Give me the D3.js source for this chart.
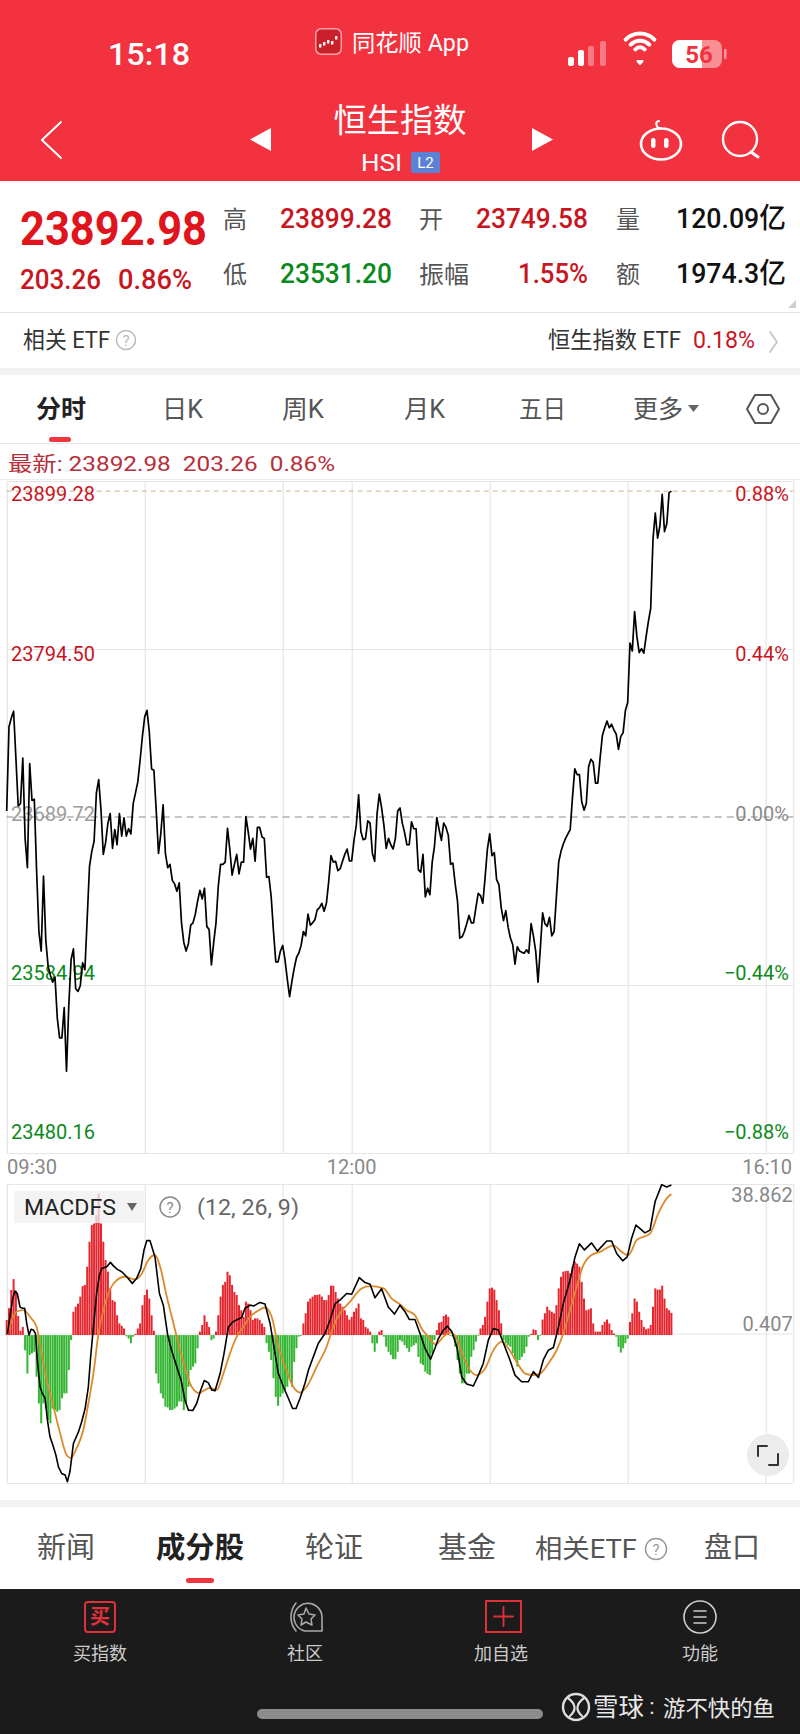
<!DOCTYPE html>
<html><head><meta charset="utf-8">
<script src="https://cdn.jsdelivr.net/npm/d3@7/dist/d3.min.js"></script>
<style>html,body{margin:0;padding:0;background:#fff}svg{display:block}
text{font-family:Roboto,"Noto Sans CJK SC",sans-serif}</style></head><body>
<svg id="c" width="800" height="1734"></svg>
<script>
// ---------- data ----------
const prevClose = 23689.72;
const latest = 23892.98;
const priceTicks = [23899.28, 23794.50, 23689.72, 23584.94, 23480.16];
const pctTicks = ["0.88%", "0.44%", "0.00%", "−0.44%", "−0.88%"];
const gridMinutes = [60, 120, 150, 210, 270, 330];
const timeLabels = ["09:30", "12:00", "16:10"];
const timeLabelMinutes = [0, 150, 342];
// one value per traded minute
const prices = [23693.5,23746,23751.4,23755.7,23726.5,23696.7,23698.1,23726.5,23676.4,23658.1,23723,23700,23700.8,23656.2,23618.3,23606.1,23652.9,23612.9,23596.7,23591,23586.7,23589.9,23564.2,23552,23552,23570.9,23531.2,23572.3,23600.7,23607.5,23582.6,23581,23584.5,23598.8,23594.5,23626.4,23658.9,23668.3,23674.6,23704.8,23713,23694,23666.4,23673.7,23685.9,23691.9,23670.2,23681.9,23672.4,23691.9,23677.8,23689.2,23677.8,23682.4,23679.2,23698.1,23704.8,23711.6,23725.1,23740,23752.2,23756.2,23742.7,23719.7,23718.9,23694,23667,23679.2,23697.3,23667,23658.1,23660.2,23650.2,23648,23643.4,23648.6,23623.7,23611.5,23606.1,23610.7,23622.3,23623.7,23629.1,23637.2,23644,23638.6,23645.3,23621.5,23619.6,23597.5,23611.5,23623.7,23646.7,23660.2,23660.2,23661.6,23682.7,23669.7,23653.5,23660.2,23666.4,23654.3,23661.6,23661.6,23690,23680.5,23669.7,23676.4,23662.1,23683.2,23683.2,23677.3,23676.4,23652.1,23652.6,23639.9,23618.3,23599.4,23599.4,23606.1,23609.6,23600.7,23588.5,23577.7,23587.2,23595.3,23602.1,23604.8,23609.6,23618.3,23615.6,23629.1,23622.3,23623.7,23625.6,23631.8,23633.2,23635.9,23631,23635.9,23649.4,23665.6,23661.6,23662.1,23656.2,23657.5,23662.1,23666.4,23669.7,23662.4,23662.4,23675.1,23684.6,23703.5,23680.5,23675.6,23676.2,23687.3,23685.9,23667,23662.1,23691.3,23704,23695.4,23684.6,23670.2,23676.4,23672.4,23669.7,23676.4,23693.5,
23695.4,23685.9,23680,23672.4,23672.4,23686.7,23682.4,23682.4,23656.7,23655.3,23666.4,23639.9,23645.3,23641.3,23661.6,23671.6,23689.4,23681.9,23675.1,23685.9,23683.2,23678.3,23660.2,23661,23648,23637.2,23614.2,23615,23618.3,23623.2,23628.3,23623.7,23623.7,23633.2,23642.1,23640.7,23635.9,23652.1,23669.7,23679.2,23665.6,23667.5,23650.7,23647.5,23633.2,23625.1,23631.3,23621,23614.2,23610.2,23598,23608.8,23606.1,23605.3,23604.8,23606.9,23604.8,23623.2,23615.6,23606.1,23586.7,23607.5,23629.9,23623.2,23621.5,23627.2,23615.6,23618.3,23639.9,23661.6,23668.3,23672.9,23676.4,23679.2,23681.9,23702.1,23719.7,23716.2,23716.2,23699.4,23694,23698.1,23721.1,23725.7,23723.8,23710.8,23710.8,23726.5,23740.6,23745.4,23749.5,23745.4,23747.6,23744.1,23741.4,23731.9,23740,23742.2,23756.2,23761.1,23798.2,23793.3,23817.9,23802.2,23792.2,23794.7,23791.9,23802.2,23811.7,23819.8,23863.1,23879.3,23863.6,23871.2,23891,23867.7,23872.6,23892,23892.98];
const macdBars = [3.9,6.9,11.6,14.4,11.4,4.9,1.1,2.1,-3.9,-9.9,-5.1,-4.7,-4.3,-10.7,-17.6,-22.7,-17.6,-18.9,-21.9,-22.7,-18.9,-19.3,-19.7,-19.3,-16.3,-15,-15,-9,-1.3,6,7.3,8.1,9.9,12.6,12.9,17.6,24,28.3,28.7,30.9,36.4,28.7,24,19.3,16.3,12,9,8.6,5.1,3,2.4,1.7,-0.3,-0.9,-2.1,-0.4,0.3,1.7,3,7.7,10.3,11.7,9.4,5.1,1.1,-9.9,-12.4,-15,-16.3,-18.4,-18.6,-19.3,-19.3,-18.9,-18.4,-17.1,-17.1,-19.3,-17.6,-13.3,-9,-8.1,-7.3,-3.4,0.9,2.6,5.1,3.4,2.1,-1.3,-0.9,0.9,5.1,9.9,12.9,13.7,16.3,15.4,12.9,11.1,10.3,7.7,6.4,4.7,8.6,8.1,6.4,3.9,4.3,4.3,3.9,3,2.1,-2.1,-4.3,-6.4,-11.1,-15.9,-18.2,-15.9,-15,-14.1,-13.3,-11.1,-13.3,-6.9,-3.4,-0.4,-0.2,3,5.6,8.6,9.4,9.9,10.3,10.3,10.5,9.9,9,9,10.3,12.7,12.7,11.1,9.4,8.1,7.3,6.4,5.1,4,4.7,6,6.9,8.1,4.3,3.9,2.1,1.7,0.9,-2.1,-4.3,-2.1,0.9,1.3,-0.4,-3,-4.3,-5.1,-6.2,-6.2,-4.3,
-1.3,-1.7,-2.6,-3.4,-4.3,-3,-2.6,-2.1,-5.6,-7.3,-7.7,-9.4,-10,-10.3,-4.7,-1.3,1.3,3.2,3.4,4.9,5.3,4.7,-0.2,-0.4,-3,-6.4,-9.9,-12.4,-12.4,-9.9,-9.9,-5.6,-3.9,-1.7,-0.2,1.7,2.6,4.7,8.6,12,12.2,11.7,9,6.4,3,-1.3,-2.1,-2.6,-3,-4.7,-6.4,-8.1,-6.4,-5.6,-4.7,-3,-0.4,0.3,1.5,1.3,-1.3,-0.2,4,5.6,7.3,6.4,6,5.6,7.7,12,15,16.3,16.5,16.5,15.9,17.6,18.9,18.4,17.6,13.7,9.4,6.4,6.6,6.9,3,0.9,0.9,0.9,2.6,3.4,4,3,1.3,0.4,-0.4,-3,-4.5,-3.4,-2.1,-0.9,3.4,5.6,9.4,8.6,6,3.9,2.1,1.5,1.7,2.6,7.3,12,11.7,11.7,12.7,9.4,6.9,6.4,5.7];
const difMinutes = [0.3,1.4,2.6,3.6,4.6,5.8,6.8,7.8,8.7,9.7,10.6,11.6,12.5,13.3,14.5,15.5,16.7,17.7,18.8,20.3,21.4,22.5,23.9,25.4,26.4,27.5,29,31.2,32.6,34.1,35.5,36.5,37.7,39.1,40.3,41.3,43.5,45.1,46.4,48.1,50,52.2,54.6,56.5,58.3,59.7,60.9,62.3,64.5,66.4,68.1,70,71.7,73.9,75.8,77.5,79,80.9,82.6,84.1,85.9,87.7,89.1,90.6,92.8,94.5,96.4,98.3,100.3,102.2,103.6,105.8,107.5,110.1,112.3,114.5,116.2,118.1,120.3,122.5,124.3,125.8,127.5,129.7,131.2,133.3,135.5,138.4,140.6,142.8,144.9,147.8,150,153.3,155.8,158,160.1,163,165.9,168.6,171,173.2,175.1,177.5,179.7,181.9,184.3,186.2,187.7,189.9,191.6,193.5,195.7,197.8,200,202.9,205.1,207.2,209.4,211.6,213.8,216,218.8,221,223.9,226.8,229,231.2,233.3,235.5,237.7,239.9,242,244.9,247.1,249,251.2,254.3,256.8,260.9,263,265.2,267.8,269.8,271.7,273.6,277.5,279.7,281.9,284.8,286.9,289];
const difValues = [0.3,4.7,9.4,11.3,10.7,7.2,6.9,6.9,3,0,1.5,1.3,0.4,-6.4,-13.3,-15,-16.3,-21.9,-26.1,-28.7,-30.9,-33.9,-35.6,-36,-37.7,-35.1,-27.9,-24.9,-22.3,-18.9,-13.3,-5.6,2.1,10.7,15.4,17.1,17.6,18.7,17.8,16.9,16.3,15,13.3,14.6,17.1,21.9,24.3,24.3,20,10.7,7.7,0,-3.9,-8.1,-11.6,-16.7,-19.3,-19.4,-17.6,-14.6,-11.7,-12.3,-14.1,-14.3,-9.9,-4.7,2.1,3.4,4,4.5,6.9,7.7,7.5,8.4,8,3,-3,-9.9,-13.3,-16.3,-18.9,-18.9,-16.3,-12.4,-9,-5.6,-2.1,0.4,3.9,8.1,9,10.7,10.5,14.8,13.5,13.1,9.6,11.9,7.2,5.4,7.7,6,4,4,0.4,-3.4,-6.2,-3.4,-0.9,1.3,2.3,0.9,-3,-10.7,-12.6,-13.1,-10.3,-7.3,-1.3,1.7,1.3,-2.1,-6.4,-10.3,-12,-12,-9.4,-10.9,-6.4,-3.9,-3.2,2.1,8.1,14.1,20.1,23.5,21.9,23.7,21.6,24.2,24.2,21,19.1,20.1,24.9,28.3,26.3,27,34.3,38.7,38.1,38.6];
const deaMinutes = [0.3,2.2,4.3,7.5,10.1,13,15.2,17.4,20.3,23.2,26.1,27.8,30.4,33.3,35.5,37.7,39.9,42,44.2,47.1,51.4,55.8,58.7,61.6,64.5,66.7,69.6,72.5,75.4,78.3,80.4,83.6,86.2,88.4,91.3,94.2,97.1,100,102.9,105.8,109.4,112.3,115.2,118.1,121,124.6,127.5,130.4,134.8,139.1,142,144.9,149.3,154.3,158,163.8,167.4,171,173.9,177.5,180.4,183.3,186.5,189.9,192.8,195.7,198.6,201.4,204.3,208,211.6,215.2,218.1,221.7,225.4,229,231.9,235.5,239.1,242,244.9,247.8,250.7,254.3,257.9,263.8,267.4,270.3,273.9,279.7,283.3,286.9,289];
const deaValues = [0.4,3.8,6,6.4,4.7,2.1,-4.7,-11.6,-18.4,-25.2,-30.9,-31.6,-29.1,-24.4,-17.6,-9.9,0.4,6.4,10.7,13.7,15,14.3,15.8,19.3,20.6,17.6,9.9,3,-3.9,-9.9,-13.3,-14.9,-14.1,-13.6,-14.1,-9.9,-4.7,-0.4,2.1,4.7,6.3,7.1,4.7,-3,-8.1,-13.3,-14.8,-13.3,-8.1,-3,2.1,5.6,8.6,12,12.6,12,9.4,7.9,6.4,5.1,1.7,-0.4,-2.4,-0.4,0.7,-0.9,-5.6,-9,-10.3,-8.6,-3.9,-1.7,-3.4,-6.9,-9.9,-10.3,-9.9,-7.3,-3.9,0.4,6.4,12.4,18,20.6,21.4,23.1,21.4,20.6,24.4,26.1,31.3,35.1,36.3];
const macdTop = 38.862, macdMid = 0.407;
const macdBottom = 2*macdMid - macdTop;

// ---------- colours ----------
const RED="#f2333f", UP="#c8161f", DOWN="#0b8a1c", GRID="#e5e5e5", BAND="#f2f2f2";

const svg = d3.select("#c");
const T=(s,x,y,o={})=>svg.append("text").text(s).attr("x",x).attr("y",y)
  .attr("font-size",o.fs||20).attr("fill",o.c||"#222").attr("font-weight",o.w||400)
  .attr("text-anchor",o.a||"start").attr("dominant-baseline",o.b||"auto")
  .attr("lengthAdjust","spacingAndGlyphs").call(t=>{if(o.l)t.attr("textLength",o.l);});
const rect=(x,y,w,h,c,r=0)=>svg.append("rect").attr("x",x).attr("y",y).attr("width",w).attr("height",h).attr("fill",c).attr("rx",r);
const path=(d,o={})=>svg.append("path").attr("d",d).attr("fill",o.f||"none").attr("stroke",o.s||"none").attr("stroke-width",o.w||1.5).attr("stroke-linecap","round").attr("stroke-linejoin","round").attr("opacity",o.o==null?1:o.o);
const circ=(x,y,r,o={})=>svg.append("circle").attr("cx",x).attr("cy",y).attr("r",r).attr("fill",o.f||"none").attr("stroke",o.s||"none").attr("stroke-width",o.w||1.5);

// ---------- header ----------
rect(0,0,800,181,RED);
T("15:18",108,65,{fs:32,c:"#fff",w:500,l:82});
rect(315,28,27,27,"#f7a0a6",6); rect(316.5,29.5,24,24,"#c9202a",5);
[[319,44],[323,42],[327,40],[331,41],[335,36]].forEach(p=>rect(p[0],p[1],2.4,3.4,"#fff",.5));
T("同花顺 App",352,51,{fs:23,c:"#fff",l:117});
[[568,57,6,9,1],[578,50,6,16,1],[588,46,6,20,.35],[600,41,6,25,.35]].forEach(b=>rect(b[0],b[1],b[2],b[3],"#fff",2).attr("opacity",b[4]));
const wx=640,wy=64;
[[20,4],[13,4],[6.5,4]].forEach((a,i)=>{const r=a[0]; path(`M${wx-r*.72} ${wy-10-r*.72}A${r} ${r} 0 0 1 ${wx+r*.72} ${wy-10-r*.72}`,{s:"#fff",w:a[1]});});
path(`M${wx-2.5} ${wy-3}L${wx} ${wy}L${wx+2.5} ${wy-3}Z`,{f:"#fff",s:"#fff",w:2});
rect(672,40,50,28,"#fff",8).attr("opacity",.45);
svg.append("clipPath").attr("id","bat").append("rect").attr("x",672).attr("y",40).attr("width",30).attr("height",28);
rect(672,40,50,28,"#fff",8).attr("clip-path","url(#bat)");
rect(724,49,2.5,10,"#fff",1).attr("opacity",.5);
T("56",699,63,{fs:24,c:RED,w:700,a:"middle"});
T("恒生指数",400,132,{fs:33,c:"#fff",a:"middle",l:133});
path("M61 122L42 140L61 158",{s:"#fff",w:2});
path("M271 128L250 139.5L271 151Z",{f:"#fff"});
path("M532 128L553 139.5L532 151Z",{f:"#fff"});
T("HSI",361,171,{fs:24,c:"#fff",l:41});
rect(411,152,29,21,"#5b82d6",2);
T("L2",425.5,168,{fs:15,c:"#fff",a:"middle"});
svg.append("ellipse").attr("cx",661).attr("cy",144).attr("rx",20).attr("ry",15.5).attr("fill","none").attr("stroke","#fff").attr("stroke-width",2.6);
path("M658 128Q654 122 659 121M658 128L661 128",{s:"#fff",w:2.2});
rect(651,138,4.5,10,"#fff",2.2);rect(664,138,4.5,10,"#fff",2.2);
circ(740,139,17,{s:"#fff",w:2.4});
path("M751 152L758 157",{s:"#fff",w:3});

// ---------- quote ----------
T("23892.98",20,245,{fs:48,c:"#e0141c",w:700,l:187});
T("203.26",20,289,{fs:28,c:UP,w:500,l:81});
T("0.86%",118,289,{fs:28,c:UP,w:500,l:74});
const qRow1=228,qRow2=283;
T("高",223,228,{fs:24,c:"#555"});T("开",419,228,{fs:24,c:"#555"});T("量",616,228,{fs:24,c:"#555"});
T("低",223,283,{fs:24,c:"#555"});T("振幅",419,283,{fs:24,c:"#555",l:50});T("额",616,283,{fs:24,c:"#555"});
T("23899.28",280,qRow1,{fs:28,c:UP,w:500,l:112});
T("23749.58",476,qRow1,{fs:28,c:UP,w:500,l:112});
T("120.09亿",676,qRow1,{fs:28,c:"#111",w:500,l:110});
T("23531.20",280,qRow2,{fs:28,c:DOWN,w:500,l:112});
T("1.55%",518,qRow2,{fs:28,c:UP,w:500,l:70});
T("1974.3亿",676,qRow2,{fs:28,c:"#111",w:500,l:110});
path("M796 300L796 308L788 308Z",{f:"#cfcfcf"});
rect(0,312,800,1,"#e4e4e4");
T("相关 ETF",23,348,{fs:23,c:"#333",l:87});
circ(126,340,9.5,{s:"#bbb",w:1.5}); T("?",126,346,{fs:15,c:"#bbb",a:"middle"});
T("恒生指数 ETF",548,348,{fs:23,c:"#333",l:133});
T("0.18%",693,348,{fs:23,c:UP,l:62});
path("M770 332L777 342L770 352",{s:"#c8c8c8",w:2});
rect(0,368,800,7,BAND);

// ---------- tabs ----------
[["分时",36,50,700,"#222"],["日K",162,41,400,"#555"],["周K",282,42,400,"#555"],["月K",404,41,400,"#555"],["五日",519,47,400,"#555"],["更多",633,50,400,"#555"]]
 .forEach(t=>T(t[0],t[1],418,{fs:25,c:t[4],w:t[3],l:t[2]}));
path("M688 405L699 405L693.5 412Z",{f:"#666"});
path("M755 395L771 395L779 409L771 423L755 423L747 409Z",{s:"#555",w:2});
circ(763,409,5,{s:"#555",w:2});
rect(49,437,22,5,"#f0373f",2.5);
rect(0,443,800,1,"#e8e8e8");
T("最新: 23892.98  203.26  0.86%",8,471,{fs:21,c:"#b5303a",l:327}).attr("xml:space","preserve").style("white-space","pre");
rect(0,479,800,1,"#ececec");

// ---------- price chart ----------
const x = d3.scaleLinear().domain([0,342]).range([6.7,793.3]);
const y = d3.scaleLinear().domain([priceTicks[4],priceTicks[0]]).range([1153,481]);
const yM = d3.scaleLinear().domain([macdBottom,macdTop]).range([1483,1184]);

svg.append("g").attr("transform","translate(0,1153)")
  .call(d3.axisBottom(x).tickValues(gridMinutes.concat([0,342])).tickSize(-672).tickFormat(""))
  .call(g=>{g.select(".domain").remove();g.selectAll("line").attr("stroke",GRID).attr("stroke-width",1.2);});
svg.append("g").attr("transform","translate(793.3,0)")
  .call(d3.axisLeft(y).tickValues(priceTicks.filter(p=>p!==prevClose)).tickSize(786.6).tickFormat(""))
  .call(g=>{g.select(".domain").remove();g.selectAll("line").attr("stroke",GRID).attr("stroke-width",1.2);});
svg.append("line").attr("x1",6.7).attr("x2",793.3).attr("y1",y(prevClose)).attr("y2",y(prevClose))
  .attr("stroke","#8a8a8a").attr("stroke-width",1.1).attr("stroke-dasharray","7 5");
svg.append("line").attr("x1",6.7).attr("x2",793.3).attr("y1",y(latest)).attr("y2",y(latest))
  .attr("stroke","#c9b28e").attr("stroke-width",1).attr("stroke-dasharray","5 4");

const labelColor=v=>v>prevClose?UP:(v<prevClose?DOWN:"#8a8a8a");
priceTicks.forEach((p,i)=>{
  T(p.toFixed(2),11,y(p)+[20,11.5,3.5,-5.5,-14][i],{fs:20,c:labelColor(p),a:"start",l:84}).attr("opacity",p===prevClose?.85:1);
  T(pctTicks[i],789,y(p)+[20,11.5,3.5,-5.5,-14][i],{fs:20,c:labelColor(p),a:"end"});
});

const line = d3.line().x((d,i)=>x(i)).y(d=>y(d));
svg.append("path").datum(prices).attr("d",line).attr("fill","none").attr("stroke","#000").attr("stroke-width",1.7).attr("stroke-linejoin","round");

// time labels
T(timeLabels[0],7,1174,{fs:20,c:"#888",l:50});
T(timeLabels[1],x(timeLabelMinutes[1]),1174,{fs:20,c:"#888",a:"middle"});
T(timeLabels[2],792,1174,{fs:20,c:"#888",a:"end"});

// ---------- MACD ----------
svg.append("g").attr("transform","translate(0,1483)")
  .call(d3.axisBottom(x).tickValues(gridMinutes.concat([0,342])).tickSize(-299).tickFormat(""))
  .call(g=>{g.select(".domain").remove();g.selectAll("line").attr("stroke",GRID).attr("stroke-width",1.2);});
svg.append("g").attr("transform","translate(793.3,0)")
  .call(d3.axisLeft(yM).tickValues([macdBottom,macdMid,macdTop]).tickSize(786.6).tickFormat(""))
  .call(g=>{g.select(".domain").remove();g.selectAll("line").attr("stroke",GRID).attr("stroke-width",1.2);});
svg.append("g").selectAll("rect").data(macdBars).join("rect")
  .attr("x",(d,i)=>x(i)-1).attr("width",2)
  .attr("y",d=>d>=0?yM(d):yM(0)).attr("height",d=>Math.abs(yM(d)-yM(0)))
  .attr("fill",d=>d>=0?"#e5262e":"#35b534");
rect(14,1191,130,32,"#f0f0f0").attr("opacity",.78);
T("MACDFS",24,1215,{fs:22,c:"#222",l:92});
path("M127 1203L137 1203L132 1211Z",{f:"#666"});
circ(170,1207,10,{s:"#888",w:1.5}); T("?",170,1213,{fs:15,c:"#888",a:"middle"});
T("(12, 26, 9)",197,1215,{fs:22,c:"#666",l:102});
const lineM=(xs)=>d3.line().x((d,i)=>x(xs[i])).y(d=>yM(d));
svg.append("path").datum(deaValues).attr("d",lineM(deaMinutes).curve(d3.curveMonotoneX)).attr("fill","none").attr("stroke","#dc8a2c").attr("stroke-width",1.8);
svg.append("path").datum(difValues).attr("d",lineM(difMinutes)).attr("fill","none").attr("stroke","#000").attr("stroke-width",1.6).attr("stroke-linejoin","round");
T(macdTop.toFixed(3),792.7,1201.5,{fs:20,c:"#888",a:"end"});
T(macdMid.toFixed(3),792.7,1331,{fs:20,c:"#888",a:"end"});
circ(768,1455,21,{f:"#ececec"});
path("M758 1456L758 1446L767 1446M778 1454L778 1465L769 1465",{s:"#333",w:2});

rect(0,1500,800,7,BAND);

// ---------- bottom tabs ----------
[["新闻",37,58,400,"#555",29],["成分股",156,88,700,"#222",29],["轮证",305,58,400,"#555",29],["基金",438,58,400,"#555",29],["相关ETF",535,102,400,"#555",26],["盘口",704,56,400,"#555",29]]
 .forEach(t=>T(t[0],t[1],1558,{fs:t[5],c:t[4],w:t[3],l:t[2]}));
circ(656,1549,10.5,{s:"#999",w:1.5}); T("?",656,1555,{fs:15,c:"#999",a:"middle"});
rect(186,1578,28,5,"#f0373f",2.5);

// ---------- footer ----------
rect(0,1589,800,145,"#1b1b1b");
svg.append("rect").attr("x",85).attr("y",1602).attr("width",30).attr("height",30).attr("rx",3).attr("fill","none").attr("stroke","#e0303a").attr("stroke-width",2);
T("买",100,1624,{fs:20,c:"#e0303a",w:700,a:"middle"});
path("M296 1603A22 22 0 0 0 296 1631",{s:"#aaa",w:1.6});
path("M322 1631L305 1631A14 14 0 1 1 322 1617Z",{s:"#aaa",w:1.6});
path("M306 1608L309 1614L315 1615L311 1619L312 1625L306 1622L301 1625L302 1619L298 1615L304 1614Z",{s:"#aaa",w:1.5});
svg.append("rect").attr("x",486).attr("y",1601).attr("width",35).attr("height",31).attr("fill","none").attr("stroke","#e0303a").attr("stroke-width",2);
path("M503.5 1607V1626M494 1616.5H513",{s:"#e0303a",w:1.8});
circ(700,1617,16,{s:"#ccc",w:1.6});
path("M694 1611H706M694 1617H706M694 1623H706",{s:"#ccc",w:1.6});
T("买指数",100,1660,{fs:18,c:"#ccc",a:"middle"});
T("社区",305,1660,{fs:18,c:"#ccc",a:"middle"});
T("加自选",501,1660,{fs:18,c:"#ccc",a:"middle"});
T("功能",700,1660,{fs:18,c:"#ccc",a:"middle"});
rect(257,1709,286,10,"#8c8c8c",5);
circ(576,1707,13,{s:"#ddd",w:2.4});
path("M568 1698Q580 1707 570 1716M584 1698Q572 1707 582 1716",{s:"#ddd",w:2.2});
T("雪球",593,1716,{fs:25,c:"#e8e8e8",l:51});
T(":",652,1714,{fs:22,c:"#e8e8e8",a:"middle"});
T("游不快的鱼",663,1716,{fs:22,c:"#e8e8e8",l:112});
</script></body></html>
